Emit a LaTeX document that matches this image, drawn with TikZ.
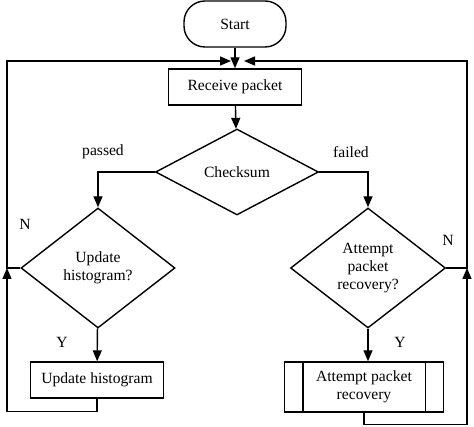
\documentclass[tikz,border=0pt]{standalone}
\usepackage{fontspec}
\setmainfont{Liberation Serif}
\usetikzlibrary{shapes.geometric,arrows.meta}
\begin{document}
\begin{tikzpicture}[x=1pt,y=-1pt,line width=1.4pt,font=\fontsize{15.6}{18}\selectfont,>={Triangle[length=11pt,width=9pt]}]
\useasboundingbox (0,0) rectangle (474,427);
\node[draw,rounded corners=21pt,minimum width=102pt,minimum height=46pt] (start) at (235,24) {Start};
\node[draw,minimum width=133pt,minimum height=36pt] (recv) at (235,87) {Receive packet};
\node[draw,diamond,aspect=1.9,inner sep=0pt,minimum width=163pt,minimum height=86pt] (cksum) at (237,172) {Checksum};
\node[draw,diamond,aspect=1.28,inner sep=0pt,align=center,minimum width=154pt,minimum height=120pt] (histq) at (98,268) {Update\\histogram?};
\node[draw,diamond,aspect=1.29,inner sep=0pt,align=center,minimum width=155pt,minimum height=120pt] (recq) at (368,268) {Attempt\\packet\\recovery?};
\node[draw,minimum width=133pt,minimum height=36pt] (upd) at (97,380) {Update histogram};
\node[draw,align=center,minimum width=159pt,minimum height=50pt] (recbox) at (364,387) {Attempt packet\\recovery};
\draw ([xshift=19pt]recbox.north west) -- ([xshift=19pt]recbox.south west);
\draw ([xshift=-19pt]recbox.north east) -- ([xshift=-19pt]recbox.south east);
\node (passed) at (103,152) {passed};
\node (failed) at (351,152) {failed};
\node (nl) at (25,224) {N};
\node (yl) at (62,342) {Y};
\node (nr) at (448,240) {N};
\node (yr) at (400,342) {Y};
\coordinate (jl) at (231,61);
\coordinate (jr) at (244,61);
\coordinate (ll) at (7,268);
\coordinate (rr) at (467,268);
\draw[->] (start) -- (recv);
\draw[->] (recv) -- (cksum);
\draw[->] (cksum.west) -| (histq.north);
\draw[->] (cksum.east) -| (recq.north);
\draw[->] (histq) -- (upd);
\draw[->] (recq.south) -- (recq.south |- recbox.north);
\draw[->] (histq.west) -- (ll) |- (jl);
\draw[->] (recq.east) -- (rr) |- (jr);
\draw[->] (upd.south) -- ++(0,13) -| (ll);
\draw[->] (recbox.south) -- ++(0,12) -| (rr);
\end{tikzpicture}
\end{document}
